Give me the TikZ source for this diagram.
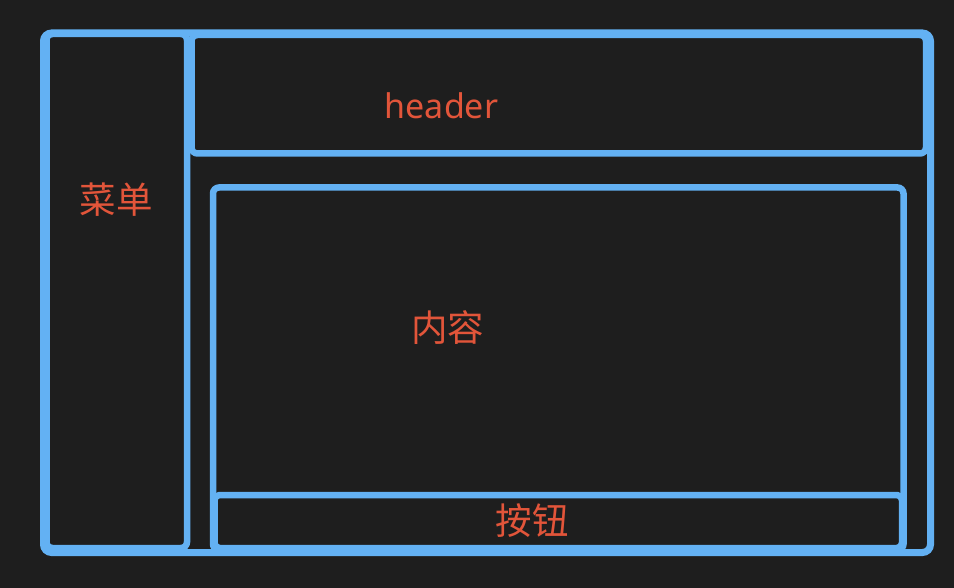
\documentclass[tikz,border=0pt]{standalone}
\usepackage{fontspec}
\newfontfamily\cjk{Noto Sans CJK SC}
\newfontfamily\latinsans{Noto Sans}
\definecolor{bgc}{HTML}{1E1E1E}
\definecolor{bluec}{HTML}{63B1F3}
\definecolor{redc}{HTML}{E2553A}
\tikzset{
  boxline/.style={draw=bluec, line width=6.5pt, rounded corners=6pt},
  framebox/.style={draw=bluec, line width=7pt, rounded corners=8pt},
  cjklabel/.style={text=redc, inner sep=0pt, font=\cjk\fontsize{36.5}{40}\selectfont},
  latlabel/.style={text=redc, inner sep=0pt, anchor=base, font=\latinsans\fontsize{34}{40}\selectfont}
}
\begin{document}
\begin{tikzpicture}[x=1pt,y=-1pt]
\fill[bgc] (0,0) rectangle (954,588);
\useasboundingbox (0,0) rectangle (954,588);
% outer frame
\draw[framebox] (43.5,33) rectangle (930.5,552.5);
% menu
\draw[boxline] (46.5,34) rectangle (187,548);
% header
\draw[boxline] (191.5,35) rectangle (926,153.5);
% content
\draw[boxline] (213,187.5) rectangle (903.5,550);
% button
\draw[boxline, rounded corners=5pt] (214.5,495) rectangle (902,548);
% labels
\node[cjklabel] (menu) at (116,200) {菜单};
\node[latlabel] (header) at (441.5,118.3) {header};
\node[cjklabel] (content) at (447.5,328) {内容};
\node[cjklabel] (button) at (532,521) {按钮};
\end{tikzpicture}
\end{document}
